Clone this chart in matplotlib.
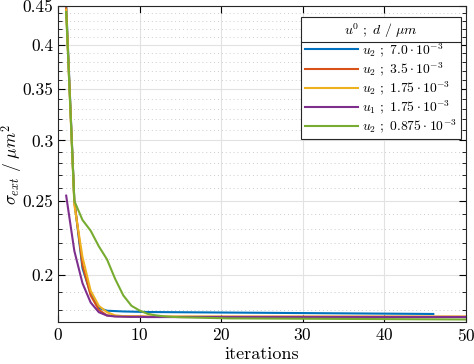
import numpy as np
import matplotlib
matplotlib.use("Agg")
import matplotlib.pyplot as plt
from matplotlib.ticker import FixedLocator, FuncFormatter

plt.rcParams['font.family'] = 'cmr10'
plt.rcParams['mathtext.fontset'] = 'cm'
plt.rcParams['axes.formatter.use_mathtext'] = True

# data
it_blue = list(range(1, 47))
blue = [0.452, 0.25, 0.204, 0.189, 0.181, 0.1795, 0.1793, 0.1791, 0.179, 0.1789] + \
       [0.1788 - 0.00003 * i for i in range(36)]
it_rest = list(range(1, 51))
red = [0.447, 0.25, 0.206, 0.188, 0.180, 0.177, 0.1766, 0.1765, 0.1764, 0.1764] + [0.1763] * 40
yellow = [0.445, 0.247, 0.211, 0.1907, 0.1822, 0.1787, 0.177, 0.1766, 0.1765, 0.1764] + [0.1763] * 40
it_purple = list(range(1, 51))
purple = [0.254, 0.215, 0.195, 0.184, 0.1787, 0.1769, 0.1764, 0.1763, 0.1762, 0.1762] + [0.1761] * 40
green = [0.442, 0.25, 0.236, 0.2285, 0.218, 0.2096, 0.1976, 0.188, 0.1822, 0.1796,
         0.1778, 0.177, 0.1765, 0.1762, 0.176, 0.1759, 0.1758, 0.1757, 0.1756, 0.1755] + \
        [0.1754 - 0.00002 * i for i in range(30)]

labels = [r'$u_2\ ;\ 7.0\cdot10^{-3}$', r'$u_2\ ;\ 3.5\cdot10^{-3}$',
          r'$u_2\ ;\ 1.75\cdot10^{-3}$', r'$u_1\ ;\ 1.75\cdot10^{-3}$',
          r'$u_2\ ;\ 0.875\cdot10^{-3}$']
colors = ['#0072BD', '#D95319', '#EDB120', '#7E2F8E', '#77AC30']

fig = plt.figure(figsize=(4.74, 3.64), dpi=100)
ax = fig.add_axes([0.1224, 0.1154, 0.8606, 0.8681])

ax.plot(it_blue, blue, color=colors[0], lw=1.5, label=labels[0])
ax.plot(it_rest, red, color=colors[1], lw=1.5, label=labels[1])
ax.plot(it_rest, yellow, color=colors[2], lw=1.5, label=labels[2])
ax.plot(it_purple, purple, color=colors[3], lw=1.5, label=labels[3])
ax.plot(it_rest, green, color=colors[4], lw=1.5, label=labels[4])

ax.set_yscale('log')
ax.set_xlim(0, 50)
ax.set_ylim(0.1735, 0.45)
ax.xaxis.set_major_locator(FixedLocator([0, 10, 20, 30, 40, 50]))
ax.yaxis.set_major_locator(FixedLocator([0.2, 0.25, 0.3, 0.35, 0.4, 0.45]))
minor = [round(v, 2) for v in np.arange(0.18, 0.45, 0.01)]
minor = [v for v in minor if v not in (0.2, 0.25, 0.3, 0.35, 0.4, 0.45)]
ax.yaxis.set_minor_locator(FixedLocator(minor))
ax.yaxis.set_major_formatter(FuncFormatter(lambda v, p: f'{v:g}'))
ax.yaxis.set_minor_formatter(FuncFormatter(lambda v, p: ''))
ax.xaxis.set_minor_locator(FixedLocator([]))

ax.tick_params(which='both', direction='in', top=True, right=True, labelsize=12.5)
ax.tick_params(which='major', length=5)
ax.tick_params(which='minor', length=3)
ax.grid(True, which='major', color='#e2e2e2', lw=0.8)
ax.grid(True, which='minor', axis='y', color='#cccccc', lw=0.7, linestyle=(0, (1, 3)))
ax.set_axisbelow(True)
for s in ax.spines.values():
    s.set_linewidth(0.8)
    s.set_color('#262626')

ax.set_xlabel('iterations', fontsize=13, labelpad=2)
ax.set_ylabel(r'$\sigma_{ext}\ /\ \mu m^2$', fontsize=12.5)
ax.yaxis.set_label_coords(-0.081, 0.5)

leg = ax.legend(loc='upper right', title=r'$u^0\ ;\ d\ /\ \mu m$', fontsize=9.8,
                title_fontsize=10, fancybox=False, edgecolor='#262626', framealpha=1,
                handlelength=3.9, handletextpad=0.3, labelspacing=0.1,
                borderpad=0.3, borderaxespad=0, bbox_to_anchor=(0.988, 0.965))
leg.get_frame().set_linewidth(0.8)
leg._legend_box.sep = 1

fig.canvas.draw()
bb = leg.get_window_extent().transformed(ax.transAxes.inverted())
tb = leg.get_title().get_window_extent().transformed(ax.transAxes.inverted())
yline = tb.y0 - 0.006
ax.plot([bb.x0, bb.x1], [yline, yline], transform=ax.transAxes, color='#262626',
        lw=0.8, zorder=10, clip_on=False)

fig.savefig('out.png', dpi=100)
